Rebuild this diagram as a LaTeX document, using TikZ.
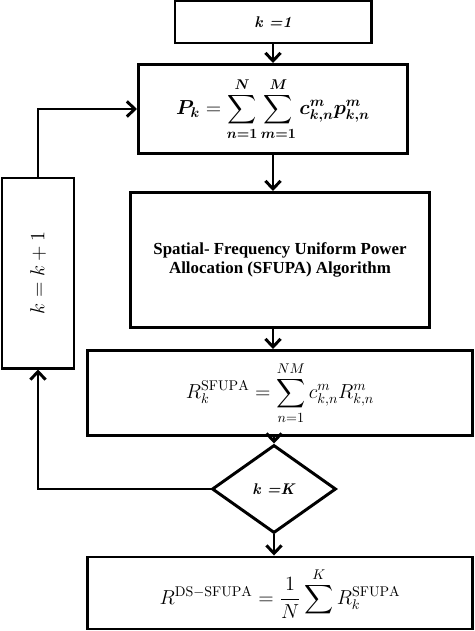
\documentclass[tikz,border=0pt]{standalone}
\usepackage{amsmath,amssymb}
\usepackage{bm}
\usepackage{fontspec}
\newfontfamily\capfont{Liberation Serif}
\usepackage{tikz}
\usetikzlibrary{arrows.meta,calc,positioning,shapes.geometric}

\begin{document}
\begin{tikzpicture}[>={Straight Barb[length=2mm,width=3.8mm]}, x=0.025cm, y=-0.025cm, line width=2.1pt,
  box/.style={draw, rectangle, inner sep=2pt, align=center},
  test/.style={draw, diamond, inner sep=0pt, minimum width=3.1cm, minimum height=2.2cm}]

  % Frame of the picture
  \useasboundingbox (0,0) rectangle (474,631);

  % Start value
  \node[box, minimum width=4.9cm, minimum height=1.05cm] (init) at (273,22)
    {\fontsize{11}{13}\selectfont\textbf{\textit{k =1}}};

  % Total power
  \node[box, minimum width=6.725cm, minimum height=2.225cm] (sumP) at (273,109)
    {\Large $\displaystyle \bm{P_k}=\sum_{\bm{n=1}}^{\bm{N}}\sum_{\bm{m=1}}^{\bm{M}}\bm{c_{k,n}^{m}p_{k,n}^{m}}$};

  % Allocation step
  \node[box, minimum width=7.45cm, minimum height=3.375cm,
    font=\fontsize{12}{14}\selectfont\capfont\bfseries] (alg) at (280,260)
    {Spatial- Frequency Uniform Power\\ Allocation (SFUPA) Algorithm};

  % Rate of user k
  \node[box, minimum width=9.625cm, minimum height=2.125cm] (rate) at (280,393)
    {\Large $\displaystyle R_k^{\mathrm{SFUPA}}=\sum_{n=1}^{NM}c_{k,n}^{m}R_{k,n}^{m}$};

  % Stop test
  \node[test] (stop) at (274,489) {\fontsize{11}{13}\selectfont\textbf{\textit{k =K}}};

  % Mean rate
  \node[box, minimum width=9.625cm, minimum height=1.8cm] (mean) at (280,593)
    {\Large $\displaystyle R^{\mathrm{DS{-}SFUPA}}=\frac{1}{N}\sum^{K}R_k^{\mathrm{SFUPA}}$};

  % Next user
  \node[box, minimum width=1.8cm, minimum height=4.75cm] (next) at (38,273)
    {\rotatebox{90}{\Large $k=k+1$}};

  % Main flow
  \draw[->] (init) -- (sumP);
  \draw[->] (sumP.south) -- (sumP.south |- alg.north);
  \draw[->] (alg.south -| sumP.south) -- (sumP.south |- rate.north);
  \draw[->] (rate.south -| stop.north) -- (stop.north);
  \draw[->] (stop.south) -- (stop.south |- mean.north);

  % Loop back
  \draw[->] (stop.west) -| (next.south);
  \draw[->] (next.north) |- (sumP.west);

\end{tikzpicture}
\end{document}
